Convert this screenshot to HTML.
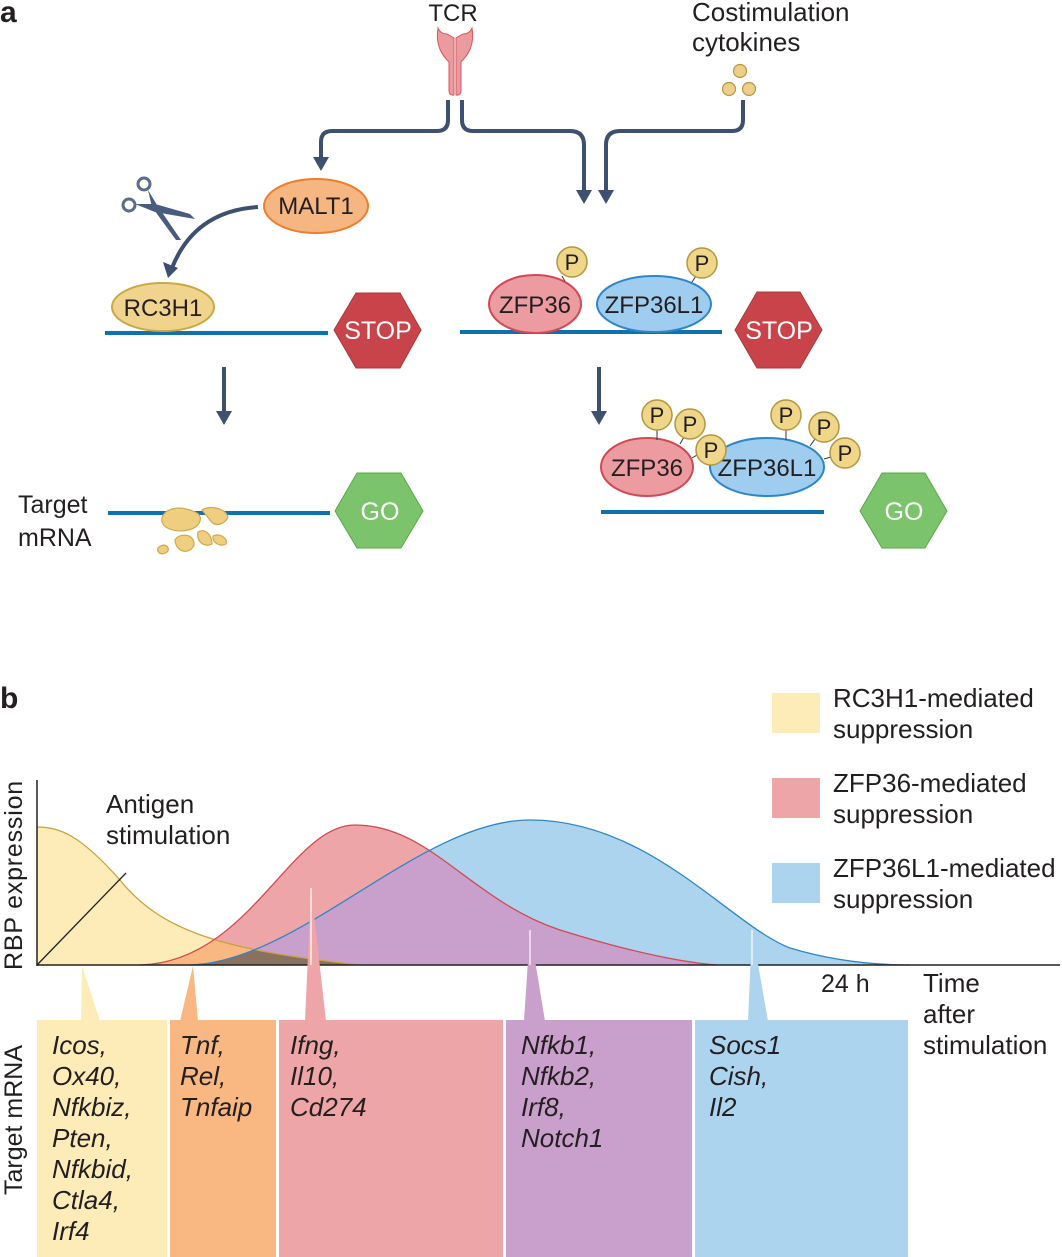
<!DOCTYPE html>
<html><head><meta charset="utf-8"><style>
html,body{margin:0;padding:0;background:#fff}
svg{display:block}
text{font-family:"Liberation Sans",sans-serif;fill:#231f20}
.it{font-style:italic;font-size:26px}
</style></head><body>
<svg width="1062" height="1257" viewBox="0 0 1062 1257" xmlns="http://www.w3.org/2000/svg">
<defs>
<clipPath id="cR"><path d="M140,965 C250,962 290,825 355,825 C430,825 470,900 560,930 C640,955 690,963 717,965 Z"/></clipPath>
<clipPath id="cB"><path d="M190,965 C300,962 420,820 530,820 C650,820 730,925 790,948 C830,960 870,965 910,965 Z"/></clipPath>
<clipPath id="cY"><path d="M37,965 L37,827 C60,827 80,835 120,880 C160,930 220,950 360,965 Z"/></clipPath>
</defs>
<text x="0" y="22" font-size="30" font-weight="bold">a</text>
<text x="0" y="708" font-size="30" font-weight="bold">b</text>

<!-- TCR -->
<text x="453" y="21" font-size="24" text-anchor="middle">TCR</text>
<path d="M438,28 C441,35 446,33 449,35 L454,38 L454,95 Q449,96 449,90 L449,62 C442,55 435,45 438,28 Z" fill="#eb9b9d" stroke="#d7585f" stroke-width="1"/>
<path d="M472,28 C469,35 464,33 461,35 L456,38 L456,95 Q461,96 461,90 L461,62 C468,55 475,45 472,28 Z" fill="#eb9b9d" stroke="#d7585f" stroke-width="1"/>
<text x="692" y="21" font-size="26">Costimulation</text>
<text x="692" y="51" font-size="26">cytokines</text>
<g fill="#ecd08a" stroke="#b9963f" stroke-width="1.2"><circle cx="740" cy="71" r="6.5"/><circle cx="729" cy="89" r="6.5"/><circle cx="749" cy="89" r="6.5"/></g>

<g fill="none" stroke="#3d5070" stroke-width="4">
<path d="M448,100 V120 Q448,131 437,131 H332 Q321,131 321,142 V160"/>
<path d="M462,100 V120 Q462,131 473,131 H570 Q584,131 584,145 V195"/>
<path d="M743,100 V120 Q743,131 732,131 H620 Q606,131 606,145 V195"/>
<path d="M258,207 C210,210 185,235 172,268"/>
<path d="M224,367 V415"/><path d="M599,367 V415"/>
</g>
<g fill="#3d5070">
<path d="M313,157 L329,157 L321,171 Z"/>
<path d="M576,190 L592,190 L584,204 Z"/><path d="M598,190 L614,190 L606,204 Z"/>
<path d="M163,262 L178,268 L168,278 Z"/>
<path d="M216,411 L232,411 L224,425 Z"/><path d="M591,411 L607,411 L599,425 Z"/>
</g>
<!-- scissors -->
<g stroke="#5a6d8c" stroke-width="3" fill="none"><circle cx="144" cy="184" r="6"/><circle cx="129" cy="205" r="6"/></g>
<path d="M148,190 L157,205 L181,240 L176,240 L152,207 Z M135,204 L155,204 L190,214 L195,219 L155,212 Z" fill="#475c7e"/>

<!-- MALT1 -->
<ellipse cx="316" cy="206" rx="52" ry="27" fill="#f6b682" stroke="#ef7d2d" stroke-width="2"/>
<text x="316" y="214" font-size="24" text-anchor="middle">MALT1</text>
<line x1="105" y1="333" x2="328" y2="333" stroke="#1170b0" stroke-width="4"/>
<ellipse cx="163" cy="307" rx="51" ry="24" fill="#f0d48e" stroke="#c9a845" stroke-width="2"/>
<text x="163" y="316" font-size="24" text-anchor="middle">RC3H1</text>
<polygon points="334,330 356,293 400,293 421,330 400,368 356,368" fill="#c9444a" stroke="#a8383d"/>
<text x="378" y="339" font-size="25" text-anchor="middle" style="fill:#fff">STOP</text>
<text x="18" y="513" font-size="25">Target</text>
<text x="18" y="546" font-size="25">mRNA</text>
<line x1="108" y1="513" x2="330" y2="513" stroke="#1170b0" stroke-width="4"/>
<g fill="#efcf7f" stroke="#cfa84f" stroke-width="1.2">
<path d="M162,518 C165,508 180,505 195,512 C205,516 200,528 188,530 C175,533 160,528 162,518 Z"/>
<path d="M202,510 C210,505 225,508 228,517 C225,524 215,528 210,520 Z"/>
<path d="M175,540 C180,532 195,534 194,545 C190,555 176,553 175,540 Z"/>
<path d="M198,532 C205,528 212,535 212,544 C205,548 196,542 198,532 Z"/>
<path d="M213,536 C220,533 228,538 226,544 C220,547 212,543 213,536 Z"/>
<path d="M158,548 C162,543 170,545 168,551 C164,556 156,554 158,548 Z"/>
</g>
<polygon points="335,511 357,473 401,473 423,511 401,548 357,548" fill="#7cc46c" stroke="#5aa84a"/>
<text x="380" y="520" font-size="25" text-anchor="middle" style="fill:#fff">GO</text>

<!-- right top -->
<line x1="460" y1="332" x2="722" y2="332" stroke="#1170b0" stroke-width="4"/>
<g stroke="#333" stroke-width="1"><line x1="562" y1="276" x2="566" y2="283"/><line x1="696" y1="276" x2="692" y2="282"/></g>
<ellipse cx="535" cy="304" rx="46" ry="29" fill="#ec9ba0" stroke="#d14a52" stroke-width="2"/>
<ellipse cx="654" cy="304" rx="57" ry="28" fill="#9fcdef" stroke="#2f86c6" stroke-width="2"/>
<text x="535" y="313" font-size="24" text-anchor="middle">ZFP36</text>
<text x="654" y="313" font-size="24" text-anchor="middle">ZFP36L1</text>
<g fill="#efd689" stroke="#b39640" stroke-width="1.5"><circle cx="572" cy="262" r="15"/><circle cx="702" cy="263" r="15"/></g>
<text x="572" y="270" font-size="22" text-anchor="middle">P</text><text x="702" y="271" font-size="22" text-anchor="middle">P</text>
<polygon points="735,330 757,292 800,292 822,330 800,368 757,368" fill="#c9444a" stroke="#a8383d"/>
<text x="779" y="339" font-size="25" text-anchor="middle" style="fill:#fff">STOP</text>
<!-- right bottom -->
<line x1="601" y1="512" x2="824" y2="512" stroke="#1170b0" stroke-width="4"/>
<ellipse cx="647" cy="467" rx="46" ry="29" fill="#ec9ba0" stroke="#d14a52" stroke-width="2"/>
<ellipse cx="767" cy="467" rx="57" ry="29" fill="#9fcdef" stroke="#2f86c6" stroke-width="2"/>
<text x="647" y="476" font-size="24" text-anchor="middle">ZFP36</text>
<text x="767" y="476" font-size="24" text-anchor="middle">ZFP36L1</text>
<g stroke="#333" stroke-width="1"><line x1="657" y1="430" x2="657" y2="440"/><line x1="684" y1="437" x2="680" y2="444"/><line x1="697" y1="455" x2="692" y2="458"/><line x1="786" y1="430" x2="786" y2="440"/><line x1="815" y1="439" x2="810" y2="446"/><line x1="831" y1="457" x2="824" y2="459"/></g>
<g fill="#efd689" stroke="#b39640" stroke-width="1.5">
<circle cx="657" cy="415" r="15"/><circle cx="690" cy="424" r="15"/><circle cx="711" cy="450" r="15"/>
<circle cx="786" cy="415" r="15"/><circle cx="824" cy="427" r="15"/><circle cx="845" cy="453" r="15"/></g>
<g font-size="22" text-anchor="middle">
<text x="657" y="423">P</text><text x="690" y="432">P</text><text x="711" y="458">P</text>
<text x="786" y="423">P</text><text x="824" y="435">P</text><text x="845" y="461">P</text></g>
<polygon points="860,511 882,473 925,473 947,511 925,548 882,548" fill="#7cc46c" stroke="#5aa84a"/>
<text x="904" y="520" font-size="25" text-anchor="middle" style="fill:#fff">GO</text>

<!-- legend -->
<rect x="772" y="693" width="48" height="40" fill="#fdebb8"/>
<rect x="772" y="778" width="48" height="40" fill="#eea5a7"/>
<rect x="772" y="863" width="48" height="40" fill="#acd4ef"/>
<g font-size="26">
<text x="833" y="707">RC3H1-mediated</text><text x="833" y="738">suppression</text>
<text x="833" y="792">ZFP36-mediated</text><text x="833" y="823">suppression</text>
<text x="833" y="877">ZFP36L1-mediated</text><text x="833" y="908">suppression</text></g>

<!-- chart -->
<path d="M37,965 L37,827 C60,827 80,835 120,880 C160,930 220,950 360,965 Z" fill="#fdebb8"/>
<path d="M190,965 C300,962 420,820 530,820 C650,820 730,925 790,948 C830,960 870,965 910,965 Z" fill="#acd4ef"/>
<path d="M140,965 C250,962 290,825 355,825 C430,825 470,900 560,930 C640,955 690,963 717,965 Z" fill="#eea5a7"/>
<g clip-path="url(#cB)"><path d="M140,965 C250,962 290,825 355,825 C430,825 470,900 560,930 C640,955 690,963 717,965 Z" fill="#c9a0cb"/></g>
<g clip-path="url(#cY)"><path d="M140,965 C250,962 290,825 355,825 C430,825 470,900 560,930 C640,955 690,963 717,965 Z" fill="#f9b882"/>
<g clip-path="url(#cB)"><rect x="0" y="800" width="700" height="170" fill="#8a7060"/></g></g>
<g fill="none" stroke-width="1.3">
<path d="M37,827 C60,827 80,835 120,880 C160,930 220,950 360,965" stroke="#c9a240"/>
<path d="M140,965 C250,962 290,825 355,825 C430,825 470,900 560,930 C640,955 690,963 717,965" stroke="#d14a52"/>
<path d="M190,965 C300,962 420,820 530,820 C650,820 730,925 790,948 C830,960 870,965 910,965" stroke="#2f86c6"/>
<line x1="37" y1="965" x2="126" y2="873" stroke="#222"/>
</g>
<line x1="37" y1="780" x2="37" y2="966" stroke="#222" stroke-width="1.5"/>
<line x1="37" y1="965" x2="1060" y2="965" stroke="#222" stroke-width="1.5"/>
<text x="106" y="813" font-size="26">Antigen</text><text x="106" y="844" font-size="26">stimulation</text>
<text x="22" y="875" font-size="25" text-anchor="middle" transform="rotate(-90 22 875)" letter-spacing="0.8">RBP expression</text>
<text x="821" y="992" font-size="25">24 h</text>
<text x="923" y="992" font-size="26">Time</text><text x="923" y="1023" font-size="26">after</text><text x="923" y="1054" font-size="26">stimulation</text>
<text x="22" y="1120" font-size="25" text-anchor="middle" transform="rotate(-90 22 1120)">Target mRNA</text>

<!-- boxes -->
<rect x="37" y="1020" width="130" height="237" fill="#fdebb8"/>
<rect x="170" y="1020" width="106" height="237" fill="#f9b882"/>
<rect x="279" y="1020" width="224" height="237" fill="#eea5a7"/>
<rect x="506" y="1020" width="186" height="237" fill="#c9a0cb"/>
<rect x="695" y="1020" width="213" height="237" fill="#acd4ef"/>
<polygon points="82,966 81,1021 100,1021" fill="#fdebb8"/>
<polygon points="193,966 180,1021 198,1021" fill="#f9b882"/>
<polygon points="311,888 305,1021 326,1021" fill="#eea5a7"/>
<polygon points="530,930 524,1021 545,1021" fill="#c9a0cb"/>
<polygon points="752,930 748,1021 768,1021" fill="#acd4ef"/>
<g fill="none" stroke="#fff" stroke-width="1.2"><line x1="311" y1="888" x2="311" y2="965"/><line x1="530" y1="930" x2="530" y2="965"/><line x1="752" y1="930" x2="752" y2="965"/></g>

<g class="it">
<text x="52" y="1054">Icos,</text><text x="52" y="1085">Ox40,</text><text x="52" y="1116">Nfkbiz,</text><text x="52" y="1147">Pten,</text><text x="52" y="1178">Nfkbid,</text><text x="52" y="1209">Ctla4,</text><text x="52" y="1240">Irf4</text>
<text x="180" y="1054">Tnf,</text><text x="180" y="1085">Rel,</text><text x="180" y="1116">Tnfaip</text>
<text x="290" y="1054">Ifng,</text><text x="290" y="1085">Il10,</text><text x="290" y="1116">Cd274</text>
<text x="521" y="1054">Nfkb1,</text><text x="521" y="1085">Nfkb2,</text><text x="521" y="1116">Irf8,</text><text x="521" y="1147">Notch1</text>
<text x="709" y="1054">Socs1</text><text x="709" y="1085">Cish,</text><text x="709" y="1116">Il2</text>
</g>
</svg>
</body></html>
